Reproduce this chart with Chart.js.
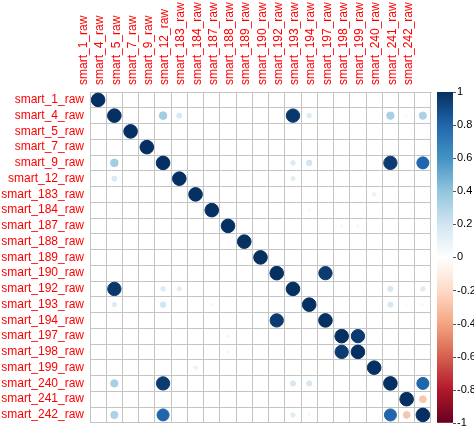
<!DOCTYPE html>
<html>
<head>
<meta charset="utf-8">
<script src="https://cdn.jsdelivr.net/npm/chart.js@4"></script>
<style>
  html, body { margin: 0; padding: 0; background: #fff; }
  #wrap { width: 474px; height: 436px; }
</style>
</head>
<body>
<div id="wrap"><canvas id="corr"></canvas></div>
<script>
// variable names, in order
const vars = ['smart_1_raw', 'smart_4_raw', 'smart_5_raw', 'smart_7_raw', 'smart_9_raw',
  'smart_12_raw', 'smart_183_raw', 'smart_184_raw', 'smart_187_raw', 'smart_188_raw',
  'smart_189_raw', 'smart_190_raw', 'smart_192_raw', 'smart_193_raw', 'smart_194_raw',
  'smart_197_raw', 'smart_198_raw', 'smart_199_raw', 'smart_240_raw', 'smart_241_raw',
  'smart_242_raw'];

// upper triangle [row, col, r]; anything not listed is ~0
const corrPairs = [
  [1, 4, 0.35], [1, 5, 0.17], [1, 7, 0.02], [1, 8, 0.02], [1, 12, 0.97], [1, 13, 0.15],
  [1, 17, 0.02], [1, 18, 0.33], [1, 19, -0.04], [1, 20, 0.32],
  [2, 8, 0.02], [2, 15, 0.03], [2, 16, 0.03],
  [4, 5, 0.03], [4, 7, 0.02], [4, 8, 0.02], [4, 12, 0.15], [4, 13, 0.2], [4, 17, 0.02],
  [4, 18, 0.96], [4, 20, 0.8],
  [5, 12, 0.13], [5, 13, 0.02], [5, 18, -0.02], [5, 20, 0.02],
  [6, 9, 0.02], [6, 13, 0.02], [6, 17, 0.1],
  [7, 12, 0.02], [7, 13, 0.05], [7, 18, 0.02], [7, 20, 0.02],
  [8, 12, 0.02], [8, 15, 0.06], [8, 16, 0.06], [8, 18, 0.02], [8, 20, 0.02],
  [11, 14, 0.96], [11, 19, 0.03],
  [12, 13, 0.03], [12, 18, 0.18], [12, 19, 0.02], [12, 20, 0.14],
  [13, 18, 0.18], [13, 19, 0.04], [13, 20, 0.05],
  [14, 19, 0.02], [15, 16, 0.96], [15, 19, 0.02],
  [17, 18, 0.02], [17, 20, 0.02],
  [18, 20, 0.8], [19, 20, -0.28]
];

// legend ticks
const legendTicks = [1, 0.8, 0.6, 0.4, 0.2, 0, -0.2, -0.4, -0.6, -0.8, -1];

// RdBu palette, from -1 to 1
const palette = ['#67001F', '#B2182B', '#D6604D', '#F4A582', '#FDDBC7', '#FFFFFF',
  '#D1E5F0', '#92C5DE', '#4393C3', '#2166AC', '#053061'];

function hexRgb(h) {
  return [parseInt(h.substr(1, 2), 16), parseInt(h.substr(3, 2), 16), parseInt(h.substr(5, 2), 16)];
}
function corrColor(r) {
  let t = (r + 1) / 2 * (palette.length - 1);
  let i = Math.min(Math.floor(t), palette.length - 2);
  let f = t - i;
  let a = hexRgb(palette[i]), b = hexRgb(palette[i + 1]);
  let c = a.map((v, k) => Math.round(v + (b[k] - v) * f));
  return `rgb(${c[0]},${c[1]},${c[2]})`;
}

let points = [];
vars.forEach(v => points.push({ x: v, y: v, c: 1 }));
corrPairs.forEach(p => {
  points.push({ x: vars[p[1]], y: vars[p[0]], c: p[2] });
  points.push({ x: vars[p[0]], y: vars[p[1]], c: p[2] });
});

function cellRadius(ctx) {
  const s = ctx.chart.scales.x;
  if (!ctx.raw || !s) return 0;
  const cell = Math.abs(s.getPixelForValue(1) - s.getPixelForValue(0)) || 16;
  return Math.max(0.45 * cell * Math.sqrt(Math.abs(ctx.raw.c)) - 0.5, 0.3);
}

const colorLegend = {
  id: 'colorLegend',
  afterDraw(chart) {
    const ctx = chart.ctx;
    const area = chart.chartArea;
    const x0 = 437, w = 16;
    const top = area.top, bottom = area.bottom;
    let g = ctx.createLinearGradient(0, bottom, 0, top);
    palette.forEach((c, i) => g.addColorStop(i / (palette.length - 1), c));
    ctx.save();
    ctx.fillStyle = g;
    ctx.fillRect(x0, top, w, bottom - top);
    ctx.strokeStyle = '#555';
    ctx.lineWidth = 1;
    ctx.font = '11px "Liberation Sans", Arial, sans-serif';
    ctx.fillStyle = '#000';
    ctx.textBaseline = 'middle';
    ctx.textAlign = 'left';
    legendTicks.forEach(t => {
      let y = bottom - (t + 1) / 2 * (bottom - top);
      ctx.beginPath();
      ctx.moveTo(x0 + w, Math.round(y) + 0.5);
      ctx.lineTo(x0 + w + 3, Math.round(y) + 0.5);
      ctx.stroke();
      ctx.fillText(String(t), x0 + w + 4, y);
    });
    ctx.restore();
  }
};

const gridColor = '#c4c4c4';
const labelFont = { family: '"Liberation Sans", Arial, sans-serif', size: 12 };

new Chart(document.getElementById('corr'), {
  type: 'scatter',
  data: {
    datasets: [{
      data: points,
      showLine: false,
      pointBackgroundColor: ctx => corrColor(ctx.raw ? ctx.raw.c : 0),
      pointBorderColor: ctx => corrColor(ctx.raw ? ctx.raw.c : 0),
      pointBorderWidth: 1,
      pointRadius: cellRadius
    }]
  },
  options: {
    responsive: true,
    maintainAspectRatio: false,
    animation: false,
    events: [],
    layout: { padding: { left: 0, top: 0, right: 43, bottom: 3 } },
    plugins: { legend: { display: false }, tooltip: { enabled: false } },
    scales: {
      x: {
        type: 'category',
        labels: vars,
        position: 'top',
        offset: true,
        afterFit: s => { s.height = 92; },
        grid: { offset: true, color: gridColor, lineWidth: 1, drawTicks: false },
        border: { color: gridColor },
        ticks: { color: '#ff0000', font: labelFont, minRotation: 90, maxRotation: 90, autoSkip: false, padding: 7 }
      },
      y: {
        type: 'category',
        labels: vars,
        offset: true,
        afterFit: s => { s.width = 90; },
        grid: { offset: true, color: gridColor, lineWidth: 1, drawTicks: false },
        border: { color: gridColor },
        ticks: { color: '#ff0000', font: labelFont, autoSkip: false, padding: 6 }
      }
    }
  },
  plugins: [colorLegend]
});
</script>
</body>
</html>
